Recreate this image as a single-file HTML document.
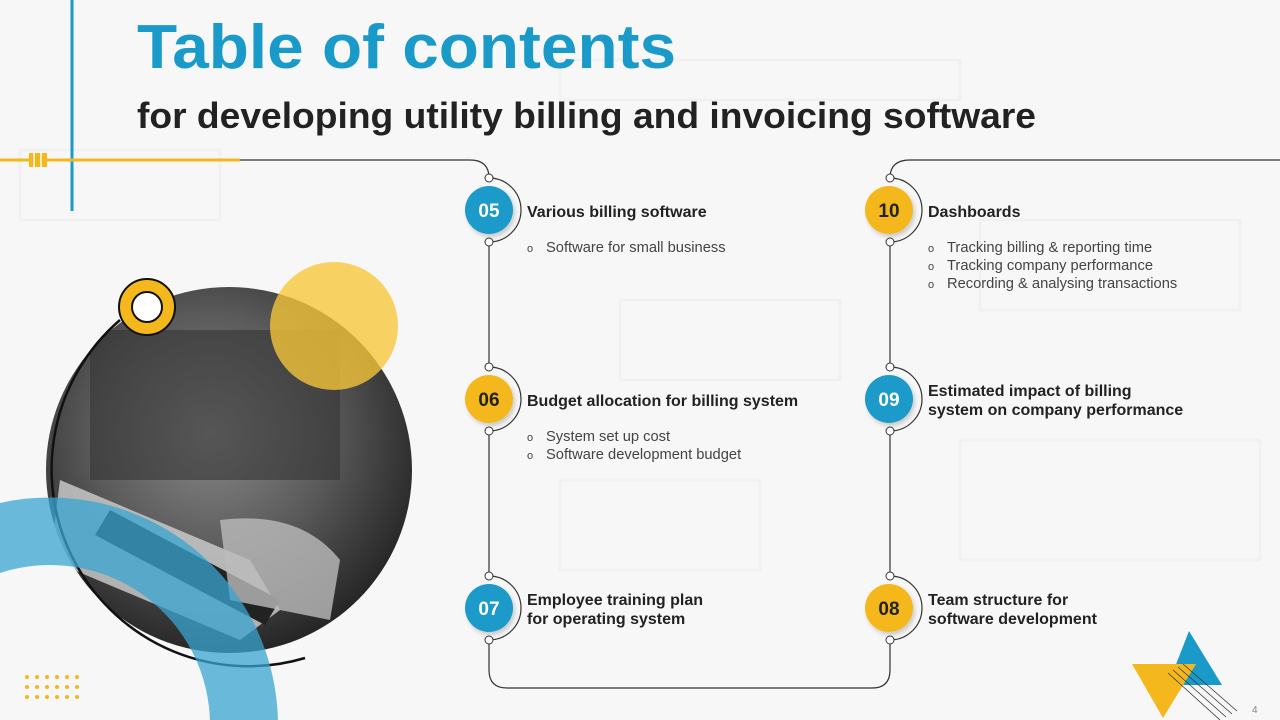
<!DOCTYPE html>
<html><head><meta charset="utf-8"><style>
html,body{margin:0;padding:0;background:#fff}
svg{display:block}
text{font-family:"Liberation Sans",Arial,sans-serif}
</style></head><body>
<svg width="1280" height="720" viewBox="0 0 1280 720" xmlns="http://www.w3.org/2000/svg">
<defs>
<radialGradient id="ph" cx="0.45" cy="0.4" r="0.65">
<stop offset="0" stop-color="#8a8a8a"/><stop offset="0.5" stop-color="#5a5a5a"/><stop offset="1" stop-color="#1e1e1e"/>
</radialGradient>
<clipPath id="cc"><circle cx="229" cy="470" r="183"/></clipPath>
<filter id="sh" x="-30%" y="-30%" width="160%" height="160%"><feDropShadow dx="2" dy="3" stdDeviation="2" flood-color="#000" flood-opacity="0.18"/></filter>
</defs>
<rect width="1280" height="720" fill="#f7f7f7"/>
<g fill="none" stroke="#f1f1f1" stroke-width="3">
<rect x="20" y="150" width="200" height="70"/><rect x="560" y="60" width="400" height="40"/><rect x="980" y="220" width="260" height="90"/><rect x="620" y="300" width="220" height="80"/><rect x="960" y="440" width="300" height="120"/><rect x="560" y="480" width="200" height="90"/>
</g>
<!-- header -->
<line x1="72" y1="0" x2="72" y2="211" stroke="#1a9ac9" stroke-width="3"/>
<line x1="0" y1="160" x2="240" y2="160" stroke="#f5b81c" stroke-width="3"/>
<rect x="29" y="153" width="18" height="14" fill="#f5b81c"/>
<line x1="34" y1="153" x2="34" y2="167" stroke="#fff" stroke-width="1.5"/><line x1="41" y1="153" x2="41" y2="167" stroke="#fff" stroke-width="1.5"/>
<text x="137" y="68" font-size="62" font-weight="bold" fill="#1a9ac9" textLength="539" lengthAdjust="spacingAndGlyphs">Table of contents</text>
<text x="137" y="128" font-size="36" font-weight="bold" fill="#222" textLength="899" lengthAdjust="spacingAndGlyphs">for developing utility billing and invoicing software</text>
<!-- timeline -->
<g fill="none" stroke="#333" stroke-width="1.2">
<path d="M240 160 H470 Q489 160 489 178"/>
<path d="M1280 160 H910 Q890 160 890 178"/>
<line x1="489" y1="242" x2="489" y2="367"/><line x1="489" y1="431" x2="489" y2="576"/>
<line x1="890" y1="242" x2="890" y2="367"/><line x1="890" y1="431" x2="890" y2="576"/>
<path d="M489 640 V670 Q489 688 507 688 H872 Q890 688 890 670 V640"/>
</g>
<g fill="none" stroke="#333" stroke-width="1.2">
<path d="M489 178 A32 32 0 0 1 489 242"/><path d="M489 367 A32 32 0 0 1 489 431"/><path d="M489 576 A32 32 0 0 1 489 640"/>
<path d="M890 178 A32 32 0 0 1 890 242"/><path d="M890 367 A32 32 0 0 1 890 431"/><path d="M890 576 A32 32 0 0 1 890 640"/>
</g>
<g fill="#fff" stroke="#333" stroke-width="1">
<circle cx="489" cy="178" r="4"/><circle cx="489" cy="242" r="4"/><circle cx="489" cy="367" r="4"/><circle cx="489" cy="431" r="4"/><circle cx="489" cy="576" r="4"/><circle cx="489" cy="640" r="4"/>
<circle cx="890" cy="178" r="4"/><circle cx="890" cy="242" r="4"/><circle cx="890" cy="367" r="4"/><circle cx="890" cy="431" r="4"/><circle cx="890" cy="576" r="4"/><circle cx="890" cy="640" r="4"/>
</g>
<g filter="url(#sh)">
<circle cx="489" cy="210" r="24" fill="#1a9ac9"/><circle cx="489" cy="399" r="24" fill="#f5b81c"/><circle cx="489" cy="608" r="24" fill="#1a9ac9"/>
<circle cx="889" cy="210" r="24" fill="#f5b81c"/><circle cx="889" cy="399" r="24" fill="#1a9ac9"/><circle cx="889" cy="608" r="24" fill="#f5b81c"/>
</g>
<g font-size="19" font-weight="bold" text-anchor="middle">
<text x="489" y="217" fill="#fff">05</text><text x="489" y="406" fill="#222">06</text><text x="489" y="615" fill="#fff">07</text>
<text x="889" y="217" fill="#222">10</text><text x="889" y="406" fill="#fff">09</text><text x="889" y="615" fill="#222">08</text>
</g>
<g font-size="16" font-weight="bold" fill="#222">
<text x="527" y="217">Various billing software</text>
<text x="527" y="406">Budget allocation for billing system</text>
<text x="527" y="605">Employee training plan</text><text x="527" y="624">for operating system</text>
<text x="928" y="217">Dashboards</text>
<text x="928" y="396">Estimated impact of billing</text><text x="928" y="415">system on company performance</text>
<text x="928" y="605">Team structure for</text><text x="928" y="624">software development</text>
</g>
<g font-size="14.7" fill="#444">
<text x="527" y="252" font-size="11">o</text><text x="546" y="252">Software for small business</text>
<text x="527" y="441" font-size="11">o</text><text x="546" y="441">System set up cost</text>
<text x="527" y="459" font-size="11">o</text><text x="546" y="459">Software development budget</text>
<text x="928" y="252" font-size="11">o</text><text x="947" y="252">Tracking billing &amp; reporting time</text>
<text x="928" y="270" font-size="11">o</text><text x="947" y="270">Tracking company performance</text>
<text x="928" y="288" font-size="11">o</text><text x="947" y="288">Recording &amp; analysing transactions</text>
</g>
<!-- photo -->
<circle cx="229" cy="470" r="183" fill="url(#ph)"/>
<g clip-path="url(#cc)">
<rect x="90" y="330" width="250" height="150" fill="#333" opacity="0.6"/>
<path d="M60 480 L250 560 L280 610 L240 640 L50 560 Z" fill="#cfcfcf" opacity="0.8"/>
<path d="M110 510 L280 600 L265 625 L95 535 Z" fill="#222"/>
<path d="M220 520 Q300 510 340 560 L330 620 L230 600 Z" fill="#bbb" opacity="0.8"/>
</g>
<path d="M120 320 A197 197 0 0 0 305 658" fill="none" stroke="#111" stroke-width="2.5"/>
<circle cx="334" cy="326" r="64" fill="#f8c73a" opacity="0.78"/>
<circle cx="147" cy="307" r="28" fill="#f5b81c" stroke="#111" stroke-width="2"/>
<circle cx="147" cy="307" r="15" fill="#fff" stroke="#111" stroke-width="2"/>
<path d="M0 503 A228 228 0 0 1 278 725 L210 725 A160 160 0 0 0 0 573 Z" fill="#3aa6d0" opacity="0.75"/>
<g fill="#f5b81c">
<circle cx="27" cy="677" r="2"/><circle cx="37" cy="677" r="2"/><circle cx="47" cy="677" r="2"/><circle cx="57" cy="677" r="2"/><circle cx="67" cy="677" r="2"/><circle cx="77" cy="677" r="2"/>
<circle cx="27" cy="687" r="2"/><circle cx="37" cy="687" r="2"/><circle cx="47" cy="687" r="2"/><circle cx="57" cy="687" r="2"/><circle cx="67" cy="687" r="2"/><circle cx="77" cy="687" r="2"/>
<circle cx="27" cy="697" r="2"/><circle cx="37" cy="697" r="2"/><circle cx="47" cy="697" r="2"/><circle cx="57" cy="697" r="2"/><circle cx="67" cy="697" r="2"/><circle cx="77" cy="697" r="2"/>
</g>
<!-- triangles -->
<polygon points="1189,631 1222,685 1168,685" fill="#1a9ac9"/>
<polygon points="1132,664 1196,664 1163,718" fill="#f5b81c"/>
<g stroke="#333" stroke-width="0.8">
<line x1="1168" y1="673" x2="1220" y2="720"/><line x1="1173" y1="670" x2="1226" y2="717"/><line x1="1178" y1="667" x2="1232" y2="714"/><line x1="1183" y1="664" x2="1237" y2="711"/>
</g>
<text x="1252" y="713" font-size="10" fill="#888">4</text>
</svg>
</body></html>
